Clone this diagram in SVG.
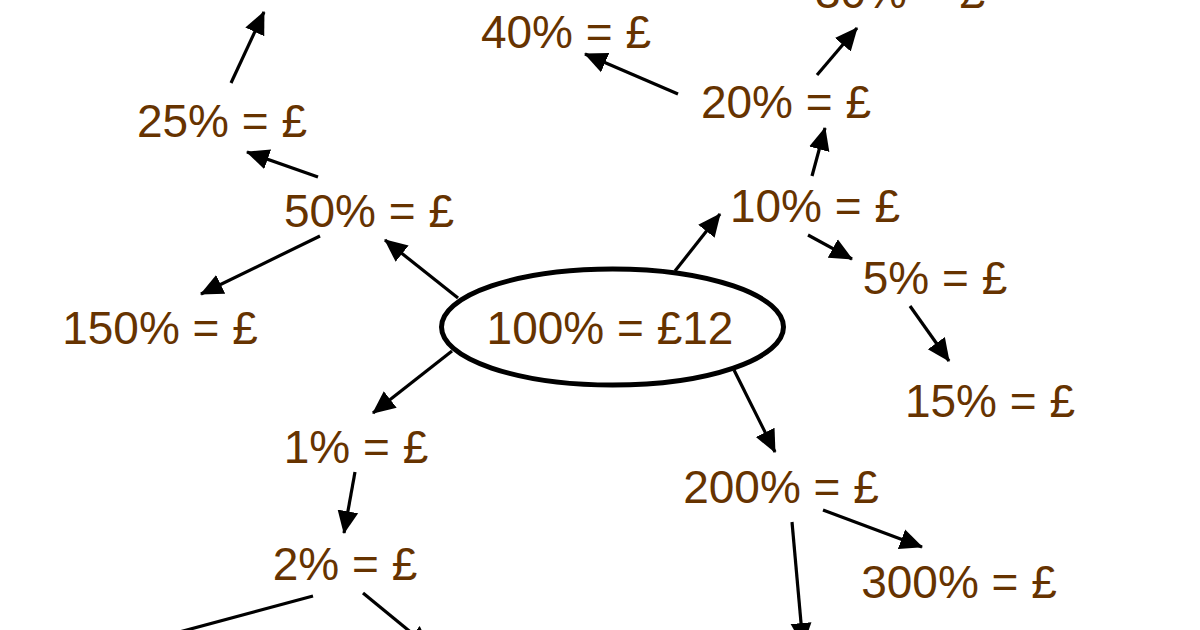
<svg xmlns="http://www.w3.org/2000/svg" width="1200" height="630" viewBox="0 0 1200 630">
<style>
text{font-family:"Liberation Sans",Arial,sans-serif;font-size:46px;fill:#663300;text-anchor:middle}
.c line{stroke:#000;stroke-width:3.2;marker-end:url(#ah)}
</style>
<defs>
<marker id="ah" markerUnits="userSpaceOnUse" markerWidth="24" markerHeight="22" refX="21" refY="10" orient="auto" viewBox="0 0 23 20">
<path d="M0,0 L22,10 L0,20 z" fill="#000"/>
</marker>
</defs>
<rect width="1200" height="630" fill="#fff"/>
<g class="c">
<line x1="231" y1="83" x2="264" y2="12"/>
<line x1="318" y1="177" x2="247" y2="152"/>
<line x1="458" y1="298" x2="385" y2="240"/>
<line x1="320" y1="236" x2="201" y2="294"/>
<line x1="678" y1="94" x2="585" y2="54"/>
<line x1="817" y1="75" x2="857" y2="28"/>
<line x1="812" y1="176" x2="825" y2="128"/>
<line x1="675" y1="271" x2="720" y2="214"/>
<line x1="808" y1="235" x2="852" y2="259"/>
<line x1="910" y1="306" x2="949" y2="361"/>
<line x1="452" y1="351" x2="373" y2="413"/>
<line x1="355" y1="472" x2="344" y2="533"/>
<line x1="313" y1="596" x2="120" y2="648"/>
<line x1="363" y1="593" x2="430" y2="648"/>
<line x1="734" y1="370" x2="775" y2="452"/>
<line x1="823" y1="510" x2="922" y2="547"/>
<line x1="792" y1="522" x2="803" y2="645"/>
</g>
<g id="n100"><ellipse cx="612.5" cy="327" rx="171" ry="58" fill="#fff" stroke="#000" stroke-width="5"/><text x="610" y="344">100% = £12</text></g>
<g id="n25"><text x="222" y="137">25% = £</text></g>
<g id="n50"><text x="369" y="227">50% = £</text></g>
<g id="n150"><text x="160" y="344">150% = £</text></g>
<g id="n40"><text x="566" y="48">40% = £</text></g>
<g id="n30"><text x="900" y="8">30% = £</text></g>
<g id="n20"><text x="786" y="118">20% = £</text></g>
<g id="n10"><text x="815" y="222">10% = £</text></g>
<g id="n5"><text x="935" y="294">5% = £</text></g>
<g id="n15"><text x="990" y="417">15% = £</text></g>
<g id="n1"><text x="356" y="463">1% = £</text></g>
<g id="n2"><text x="345" y="580">2% = £</text></g>
<g id="n200"><text x="781" y="503">200% = £</text></g>
<g id="n300"><text x="959" y="598">300% = £</text></g>
</svg>
